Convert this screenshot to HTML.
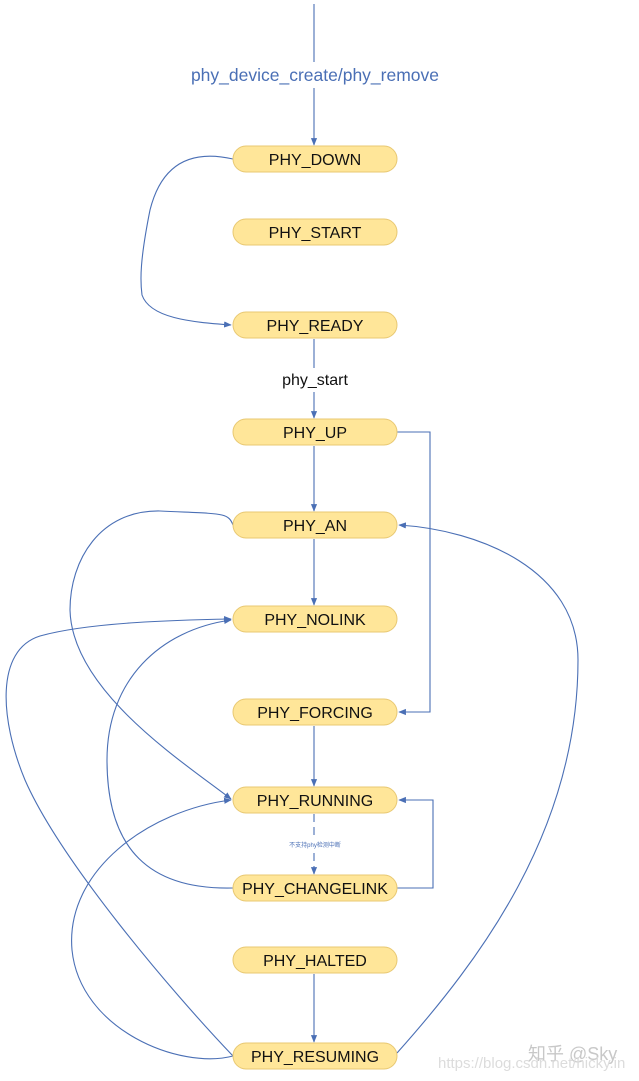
<!DOCTYPE html>
<html><head><meta charset="utf-8"><style>
html,body{margin:0;padding:0;background:#fff;}
svg{display:block;}
text{font-family:"Liberation Sans","Noto Sans CJK SC",sans-serif;}
</style></head><body>
<svg width="639" height="1081" viewBox="0 0 639 1081" xmlns="http://www.w3.org/2000/svg">
<defs>
<marker id="a" viewBox="0 0 10 10" refX="9" refY="5" markerWidth="7" markerHeight="7" orient="auto"><path d="M0,1 L10,5 L0,9 z" fill="#4a6fb5"/></marker>
</defs>
<g fill="none" stroke="#4a6fb5" stroke-width="1.1">
<path d="M314,4 V62 M314,88 V145" marker-end="url(#a)"/>
<path d="M314,339 V368 M314,392 V418" marker-end="url(#a)"/>
<path d="M314,446 V511" marker-end="url(#a)"/>
<path d="M314,539 V605" marker-end="url(#a)"/>
<path d="M314,726 V786" marker-end="url(#a)"/>
<path d="M314,974 V1042" marker-end="url(#a)"/>
<path d="M314,814 V874" stroke-dasharray="8,5" marker-end="url(#a)"/>
<path d="M397,432 H430 V712 H399" marker-end="url(#a)"/>
<path d="M397,888 H433 V800 H399" marker-end="url(#a)"/>
<path d="M233,159 C185,148 160,170 150,210 C140,260 140,280 142,295 C150,318 190,322 231,325" marker-end="url(#a)"/>
<path d="M233,525 C228,512 222,514 160,511 C100,510 70,560 70,610 C72,690 180,760 231,799" marker-end="url(#a)"/>
<path d="M233,1056 C170,990 60,860 25,780 C0,720 -5,650 40,636 C90,622 180,620 231,619" marker-end="url(#a)"/>
<path d="M233,888 C150,890 107,850 107,760 C107,680 160,630 231,620" marker-end="url(#a)"/>
<path d="M233,1056 C180,1070 80,1030 72,950 C65,870 150,810 231,800" marker-end="url(#a)"/>
<path d="M397,1053 C480,960 578,830 578,660 C578,570 480,530 399,525" marker-end="url(#a)"/>
</g>
<rect x="185" y="63" width="260" height="24" fill="#fff"/>
<text x="315" y="81" font-size="17.5" fill="#4a6fb5" text-anchor="middle">phy_device_create/phy_remove</text>
<rect x="270" y="369" width="90" height="22" fill="#fff"/>
<text x="315" y="385" font-size="16" fill="#111" text-anchor="middle">phy_start</text>
<rect x="280" y="838" width="70" height="12" fill="#fff"/>
<text x="315" y="847" font-size="6" fill="#4a6fb5" text-anchor="middle">不支持phy检测中断</text>
<g fill="#ffe699" stroke="#e8c872" stroke-width="1">
<rect x="233" y="146" width="164" height="26" rx="13"/>
<rect x="233" y="219" width="164" height="26" rx="13"/>
<rect x="233" y="312" width="164" height="26" rx="13"/>
<rect x="233" y="419" width="164" height="26" rx="13"/>
<rect x="233" y="512" width="164" height="26" rx="13"/>
<rect x="233" y="606" width="164" height="26" rx="13"/>
<rect x="233" y="699" width="164" height="26" rx="13"/>
<rect x="233" y="787" width="164" height="26" rx="13"/>
<rect x="233" y="875" width="164" height="26" rx="13"/>
<rect x="233" y="947" width="164" height="26" rx="13"/>
<rect x="233" y="1043" width="164" height="26" rx="13"/>
</g>
<g font-size="16" fill="#111" text-anchor="middle">
<text x="315" y="165">PHY_DOWN</text>
<text x="315" y="238">PHY_START</text>
<text x="315" y="331">PHY_READY</text>
<text x="315" y="438">PHY_UP</text>
<text x="315" y="531">PHY_AN</text>
<text x="315" y="625">PHY_NOLINK</text>
<text x="315" y="718">PHY_FORCING</text>
<text x="315" y="806">PHY_RUNNING</text>
<text x="315" y="894">PHY_CHANGELINK</text>
<text x="315" y="966">PHY_HALTED</text>
<text x="315" y="1062">PHY_RESUMING</text>
</g>
<text x="528" y="1060" font-size="18" fill="#c8c8c8">知乎 @Sky</text>
<text x="438" y="1068" font-size="15" fill="#dcdcdc">https://blog.csdn.net/hicky.in</text>
</svg>
</body></html>
